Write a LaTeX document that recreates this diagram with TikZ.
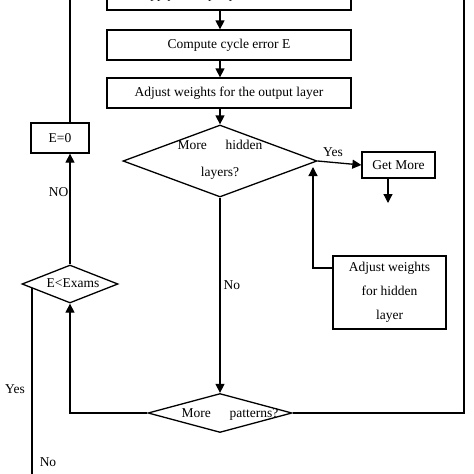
\documentclass[tikz,border=0pt]{standalone}
\usepackage{fontspec}
\setmainfont{Liberation Serif}
\usetikzlibrary{shapes.geometric,arrows.meta}
\begin{document}
\begin{tikzpicture}[x=1pt,y=-1pt,
  every node/.style={font=\fontsize{13.5}{16}\selectfont},
  box/.style={draw,line width=1.3pt,rectangle,inner sep=0pt,align=center},
  dia/.style={draw,line width=1.3pt,diamond,inner sep=0pt},
  txt/.style={inner sep=0pt},
  line/.style={line width=1.3pt},
  arr/.style={line width=1.3pt,-{Triangle[length=9pt,width=9pt]}}]
\useasboundingbox (0,0) rectangle (474,474);
\clip (0,0) rectangle (474,474);
\fill[white] (0,0) rectangle (474,474);
% nodes
\node[box,minimum width=244pt,minimum height=30pt] (top) at (229,-5) {};
\node[txt] (topt) at (229,-4.5) {Apply the input pattern and train};
\node[box,minimum width=244pt,minimum height=30pt] (compute) at (229,45) {Compute cycle error E};
\node[box,minimum width=244pt,minimum height=30pt] (adjout) at (229,93) {Adjust weights for the output layer};
\node[dia,minimum width=194pt,minimum height=72pt] (hid) at (220,161) {};
\node[txt] (hidt1) at (220,145) {More\hspace{1.4em}hidden};
\node[txt] (hidt2) at (220,173) {layers?};
\node[box,minimum width=73pt,minimum height=26pt] (getmore) at (398.5,165) {Get More};
\node[box,minimum width=113pt,minimum height=73pt,align=center] (adjhid) at (389.5,292.5) {Adjust weights\\[8pt]for hidden\\[8pt]layer};
\node[dia,minimum width=144pt,minimum height=39pt] (pat) at (220,413) {};
\node[txt] (patt) at (230,414) {More\hspace{1.4em}patterns?};
\node[dia,minimum width=96pt,minimum height=38pt] (eex) at (70,284) {};
\node[txt] (eext) at (73,283) {E<Exams};
\node[box,minimum width=58pt,minimum height=30pt] (e0) at (60,138) {E=0};
% coordinates
\coordinate (gmend) at (388,203);
\coordinate (hu) at (313,167);
\coordinate (hj) at (313,268);
\coordinate (tr) at (464,-10);
\coordinate (tl) at (70,-10);
\coordinate (yl) at (32,288);
\coordinate (ylend) at (32,480);
% connectors
\draw[arr] ([xshift=-9pt]top.south) -- ([xshift=-9pt]compute.north);
\draw[arr] ([xshift=-9pt]compute.south) -- ([xshift=-9pt]adjout.north);
\draw[arr] ([xshift=-9pt]adjout.south) -- (hid.north);
\draw[arr] (hid.east) -- (getmore.west) node[txt,pos=0.35,above=5pt] (yes1) {Yes};
\draw[arr] (getmore.south -| gmend) -- (gmend);
\draw[arr] (adjhid.west |- hj) -- (hj) -- (hu);
\draw[arr] (hid.south) -- (pat.north) node[txt,pos=0.45,right=3pt] (no1) {No};
\draw[arr] (pat.west) -| (eex.south);
\draw[line] (pat.east) -| (tr);
\draw[arr] (eex.north) -- (e0.south -| eex.north) node[txt,pos=0.65,left=1pt] (no2) {NO};
\draw[line] (e0.north -| tl) -- (tl);
\draw[line] (yl) -- (ylend);
\node[txt] (yes2) at (15,389) {Yes};
\node[txt] (no3) at (48,462) {No};
\end{tikzpicture}
\end{document}
